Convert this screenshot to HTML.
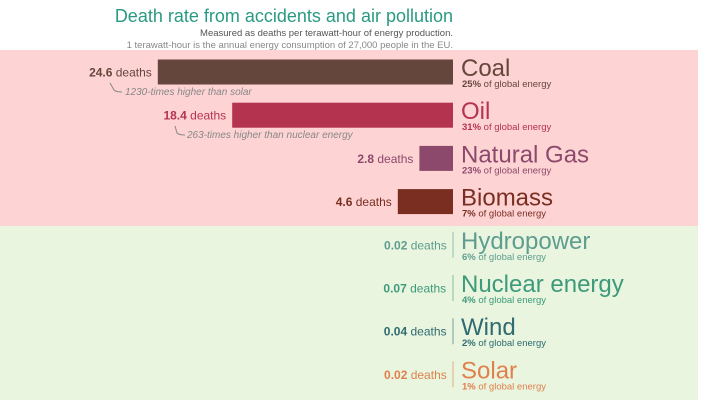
<!DOCTYPE html>
<html><head><meta charset="utf-8"><style>
body{margin:0;width:711px;height:400px;background:#fff;font-family:"Liberation Sans",sans-serif;overflow:hidden;position:relative}
.t{position:absolute;white-space:nowrap}
</style></head><body>
<div class="t" style="right:258px;top:6px;font-size:18px;color:#2a9a82">Death rate from accidents and air pollution</div>
<div class="t" style="right:258px;top:28px;font-size:9.5px;color:#555">Measured as deaths per terawatt-hour of energy production.</div>
<div class="t" style="right:258px;top:40px;font-size:9.5px;color:#888">1 terawatt-hour is the annual energy consumption of 27,000 people in the EU.</div>
<div style="position:absolute;left:0;top:50px;width:698px;height:176px;background:#fdd3d3"></div>
<div style="position:absolute;left:0;top:226px;width:698px;height:174px;background:#e9f5df"></div>
<svg id="c" width="711" height="400" style="position:absolute;left:0;top:0"></svg>
<script>
const names=["Coal","Oil","Natural Gas","Biomass","Hydropower","Nuclear energy","Wind","Solar"];
const deaths=[24.6,18.4,2.8,4.6,0.02,0.07,0.04,0.02];
const labels=["24.6","18.4","2.8","4.6","0.02","0.07","0.04","0.02"];
const shares=["25%","31%","23%","7%","6%","4%","2%","1%"];
const colors=["#65463c","#b4334f","#8c496c","#7a2e22","#5e9d90","#3d9a7b","#2f6b70","#e0804c"];
const svg=document.getElementById('c');const NS="http://www.w3.org/2000/svg";
const x0=453,k=12;const yc=i=>72+i*43.2;
function mk(t,a){const e=document.createElementNS(NS,t);for(const q in a)e.setAttribute(q,a[q]);svg.appendChild(e);return e;}
names.forEach((n,i)=>{
 const y=yc(i),w=deaths[i]*k,c=colors[i];
 let r;
 if(w>2){r=mk('rect',{x:x0-w,y:y-12.5,width:w,height:25,fill:c});}
 else{r=mk('line',{x1:x0,x2:x0,y1:y-13,y2:y+13,stroke:c,'stroke-width':1,opacity:0.6});}
 
 
 const v=mk('text',{x:x0-Math.max(w,0)-6,y:y+4.5,'text-anchor':'end','font-size':12,fill:c});
 v.innerHTML='<tspan font-weight="bold">'+labels[i]+'</tspan> deaths';
 
 
 const nm=mk('text',{x:461,y:y+4,'font-size':24,fill:c});nm.textContent=n;
 
 
 const sh=mk('text',{x:462,y:y+15,'font-size':9.5,fill:c});
 sh.innerHTML='<tspan font-weight="bold">'+shares[i]+'</tspan> of global energy';
 
 
});
const a1=mk('text',{x:125,y:95,'font-size':10,'font-style':'italic',fill:'#888'});a1.textContent='1230-times higher than solar';


const a2=mk('text',{x:187,y:138,'font-size':10,'font-style':'italic',fill:'#888'});a2.textContent='263-times higher than nuclear energy';


mk('path',{d:'M110,83 L114,90 Q116,92 122,92',stroke:'#888',fill:'none'});
mk('path',{d:'M175,126 L177,133 Q179,135 185,135',stroke:'#888',fill:'none'});
</script>
</body></html>
